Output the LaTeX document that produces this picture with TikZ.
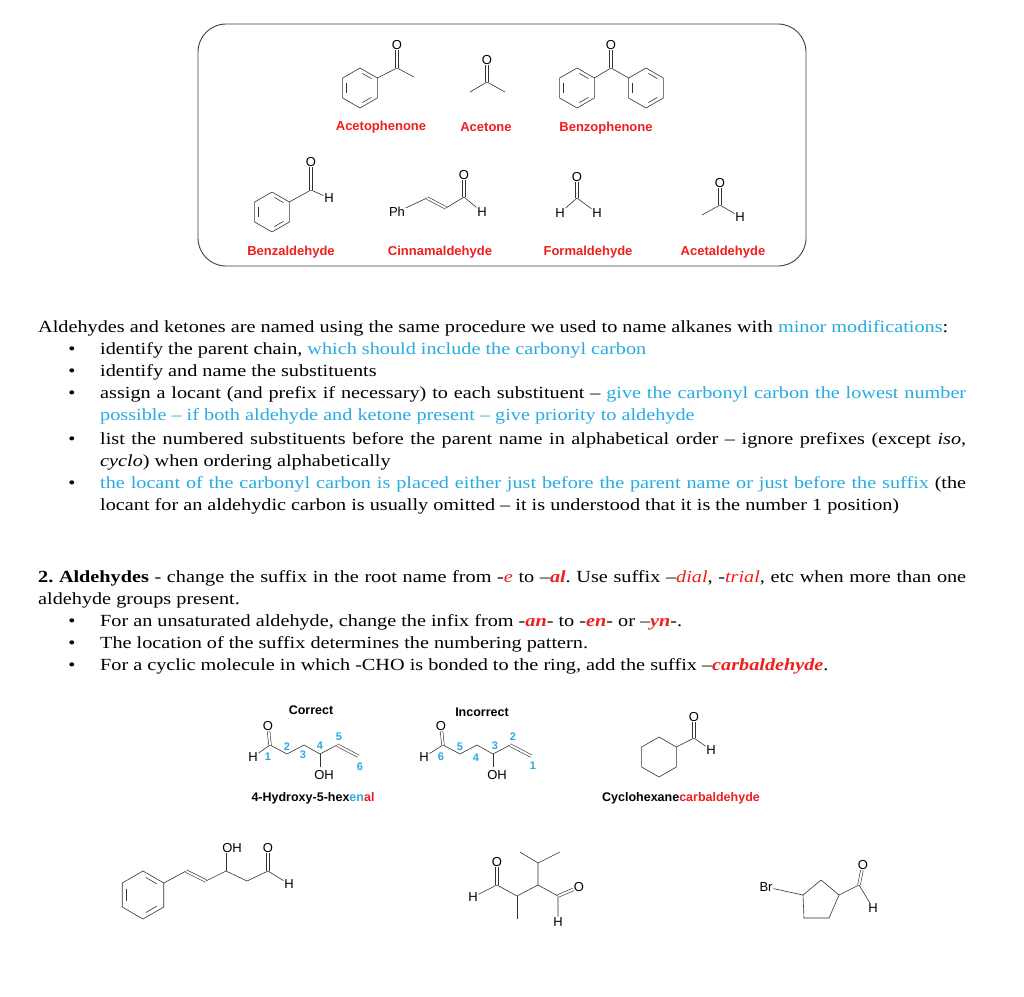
\documentclass[tikz,border=0pt]{standalone}
\usepackage{fontspec}
\setmainfont{Liberation Serif}[FakeStretch=1.19]
\setsansfont{Liberation Sans}
\definecolor{cblue}{RGB}{41,171,226}
\definecolor{cred}{RGB}{240,30,30}
\newcommand\bl[1]{\textcolor{cblue}{#1}}
\newcommand\rdi[1]{\textcolor{cred}{\textit{#1}}}
\newcommand\rdb[1]{\textcolor{cred}{\textbf{\textit{#1}}}}
\newcommand\hexa[3]{\draw[bond] (#1,#2) +(90:#3) -- +(30:#3) -- +(-30:#3) -- +(-90:#3) -- +(-150:#3) -- +(150:#3) -- cycle;}
\newcommand\arom[3]{\foreach \a in {90,210,330}{\draw[bond] ([shift={(#1,#2)}]{\a-9}:{0.74*#3}) -- ([shift={(#1,#2)}]{\a-51}:{0.74*#3});}}
\frenchspacing
\begin{document}
\begin{tikzpicture}[x=1pt,y=-1pt,
  bond/.style={line width=0.6pt,black!80},
  dbl/.style={line width=0.6pt,double=white,double distance=2pt,draw=black!80},
  atom/.style={font=\sffamily\fontsize{13}{13}\selectfont,inner sep=0.6pt},
  num/.style={font=\sffamily\bfseries\fontsize{11}{11}\selectfont,text=cblue,inner sep=0pt},
  mname/.style={font=\sffamily\bfseries\fontsize{13}{13}\selectfont,text=cred},
  kname/.style={font=\sffamily\bfseries\fontsize{12.5}{12.5}\selectfont},
  txt/.style={anchor=base west,inner sep=0pt,font=\fontsize{17}{17}\selectfont},
  bul/.style={anchor=base,inner sep=0pt,font=\fontsize{17}{17}\selectfont}]
\useasboundingbox (0,0) rectangle (1024,996);
\fill[white] (0,0) rectangle (1024,996);
% box
\draw[line width=0.9pt,black!75,rounded corners=28pt] (198,24) rectangle (806,266);
% Acetophenone
\hexa{360}{88}{20}\arom{360}{88}{20}
\coordinate (a1) at (397,68); \coordinate (a2) at (414,77);
\node[atom] (ao) at (397,45) {O};
\draw[bond] (377.3,78) -- (a1) -- (a2); \draw[dbl] (a1) -- (ao);
% Acetone
\coordinate (b1) at (487,82);
\node[atom] (bo) at (487,60) {O};
\draw[bond] (470,92) -- (b1) -- (505,92); \draw[dbl] (b1) -- (bo);
% Benzophenone
\hexa{577}{88}{20}\arom{577}{88}{20}\hexa{646}{88}{20}\arom{646}{88}{20}
\coordinate (c1) at (611,68); \node[atom] (co) at (611,45) {O};
\draw[bond] (594.3,78) -- (c1) -- (628.7,78); \draw[dbl] (c1) -- (co);
\node[mname] (n1) at (381,127) {Acetophenone};
\node[mname] (n2) at (486,127) {Acetone};
\node[mname] (n3) at (606,128) {Benzophenone};
% Benzaldehyde
\hexa{272}{212}{20}\arom{272}{212}{20}
\coordinate (d1) at (311,190); \node[atom] (do) at (311,162) {O}; \node[atom] (dh) at (329,198) {H};
\draw[bond] (289.3,202) -- (d1) -- (dh); \draw[dbl] (d1) -- (do);
% Cinnamaldehyde
\node[atom] (ph) at (397,212) {Ph};
\coordinate (e1) at (427,198); \coordinate (e2) at (446,208); \coordinate (e3) at (464,197);
\node[atom] (eo) at (464,175) {O}; \node[atom] (eh) at (482,212) {H};
\draw[bond] (ph) -- (e1); \draw[dbl] (e1) -- (e2); \draw[bond] (e2) -- (e3) -- (eh); \draw[dbl] (e3) -- (eo);
% Formaldehyde
\coordinate (f1) at (577,198); \node[atom] (fo) at (577,177) {O};
\node[atom] (fh1) at (560,213) {H}; \node[atom] (fh2) at (597,213) {H};
\draw[bond] (fh1) -- (f1) -- (fh2); \draw[dbl] (f1) -- (fo);
% Acetaldehyde
\coordinate (g1) at (720,205); \node[atom] (go) at (720,183) {O}; \node[atom] (gh) at (740,217) {H};
\draw[bond] (702,215) -- (g1) -- (gh); \draw[dbl] (g1) -- (go);
\node[mname] (n4) at (291,252) {Benzaldehyde};
\node[mname] (n5) at (440,252) {Cinnamaldehyde};
\node[mname] (n6) at (588,252) {Formaldehyde};
\node[mname] (n7) at (723,252) {Acetaldehyde};
% Text block
\node[txt] (t1) at (38,332) {Aldehydes and ketones are named using the same procedure we used to name alkanes with \bl{minor modifications}:};
\foreach \y in {354,376,398,444,488} {\node[bul] at (72,\y) {\textbullet};}
\node[txt] (t2) at (100,354) {identify the parent chain, \bl{which should include the carbonyl carbon}};
\node[txt] (t3) at (100,376) {identify and name the substituents};
\node[txt] (t4) at (100,398) {\hbox to 866pt{assign a locant (and prefix if necessary) to each substituent – \bl{give the carbonyl carbon the lowest number}}};
\node[txt] (t5) at (100,420) {\bl{possible – if both aldehyde and ketone present – give priority to aldehyde}};
\node[txt] (t6) at (100,444) {\hbox to 866pt{list the numbered substituents before the parent name in alphabetical order – ignore prefixes (except \textit{iso},}};
\node[txt] (t7) at (100,466) {\textit{cyclo}) when ordering alphabetically};
\node[txt] (t8) at (100,488) {\hbox to 866pt{\bl{the locant of the carbonyl carbon is placed either just before the parent name or just before the suffix} (the}};
\node[txt] (t9) at (100,510) {locant for an aldehydic carbon is usually omitted – it is understood that it is the number 1 position)};
\node[txt] (s1) at (38,582) {\hbox to 928pt{\textbf{2. Aldehydes} - change the suffix in the root name from -\rdi{e} to –\rdb{al}. Use suffix –\rdi{dial}, -\rdi{trial}, etc when more than one}};
\node[txt] (s2) at (38,604) {aldehyde groups present.};
\foreach \y in {626,648,670} {\node[bul] at (72,\y) {\textbullet};}
\node[txt] (s3) at (100,626) {For an unsaturated aldehyde, change the infix from -\rdb{an}- to -\rdb{en}- or –\rdb{yn}-.};
\node[txt] (s4) at (100,648) {The location of the suffix determines the numbering pattern.};
\node[txt] (s5) at (100,670) {For a cyclic molecule in which -CHO is bonded to the ring, add the suffix –\rdb{carbaldehyde}.};
% Correct
\node[kname] (k1) at (311,710) {Correct};
\coordinate (h1) at (270,745); \coordinate (h2) at (287,754); \coordinate (h3) at (304,745);
\coordinate (h4) at (320,754); \coordinate (h5) at (337,745); \coordinate (h6) at (358,756);
\node[atom] (ho) at (268,726) {O}; \node[atom] (hh) at (253,757) {H}; \node[atom] (hoh) at (324,775) {OH};
\draw[bond] (hh) -- (h1) -- (h2) -- (h3) -- (h4) -- (h5); \draw[dbl] (h5) -- (h6); \draw[dbl] (h1) -- (ho);
\draw[bond] (h4) -- (320,767);
\node[num] at (268,757) {1}; \node[num] at (287,747) {2}; \node[num] at (303,755) {3};
\node[num] at (320,746) {4}; \node[num] at (339,737) {5}; \node[num] at (360,767) {6};
% Incorrect
\node[kname] (k2) at (482,712) {Incorrect};
\coordinate (i1) at (443,745); \coordinate (i2) at (460,754); \coordinate (i3) at (477,745);
\coordinate (i4) at (493,754); \coordinate (i5) at (510,745); \coordinate (i6) at (531,756);
\node[atom] (io) at (441,726) {O}; \node[atom] (ih) at (424,757) {H}; \node[atom] (ioh) at (497,775) {OH};
\draw[bond] (ih) -- (i1) -- (i2) -- (i3) -- (i4) -- (i5); \draw[dbl] (i5) -- (i6); \draw[dbl] (i1) -- (io);
\draw[bond] (i4) -- (493,767);
\node[num] at (441,757) {6}; \node[num] at (460,747) {5}; \node[num] at (476,758) {4};
\node[num] at (495,746) {3}; \node[num] at (513,737) {2}; \node[num] at (533,766) {1};
% Cyclohexanecarbaldehyde
\hexa{659}{757}{20}
\coordinate (j1) at (694,738); \node[atom] (jo) at (694,717) {O}; \node[atom] (jh) at (711,750) {H};
\draw[bond] (676.3,747) -- (j1) -- (jh); \draw[dbl] (j1) -- (jo);
\node[kname] (k3) at (313,798) {4-Hydroxy-5-hex\textcolor{cblue}{en}\textcolor{cred}{al}};
\node[kname] (k4) at (681,798) {Cyclohexane\textcolor{cred}{carbaldehyde}};
% Mol A
\hexa{143}{895}{24}\arom{143}{895}{24}
\coordinate (m1) at (186,871); \coordinate (m2) at (206,881); \coordinate (m3) at (226,871);
\coordinate (m4) at (247,881); \coordinate (m5) at (268,871);
\node[atom] (mo) at (268,848) {O}; \node[atom] (mh) at (289,884) {H}; \node[atom] (moh) at (232,848) {OH};
\draw[bond] (163.8,883) -- (m1); \draw[dbl] (m1) -- (m2); \draw[bond] (m2) -- (m3) -- (m4) -- (m5) -- (mh);
\draw[dbl] (m5) -- (mo); \draw[bond] (m3) -- (moh.south -| m3);
% Mol B
\coordinate (p1) at (538,885); \coordinate (p2) at (538,863); \coordinate (p3) at (517,896);
\coordinate (p4) at (497,885); \coordinate (p5) at (558,896);
\node[atom] (po1) at (497,862) {O}; \node[atom] (ph1) at (473,897) {H};
\node[atom] (po2) at (579,887) {O}; \node[atom] (ph2) at (558,922) {H};
\draw[bond] (520,852) -- (p2) -- (560,852); \draw[bond] (p2) -- (p1) -- (p3) -- (p4) -- (ph1);
\draw[bond] (p3) -- (517,919); \draw[dbl] (p4) -- (po1);
\draw[bond] (p1) -- (p5) -- (ph2); \draw[dbl] (p5) -- (po2);
% Mol C
\coordinate (q1) at (803,895); \coordinate (q2) at (821,880); \coordinate (q3) at (839,895);
\coordinate (q4) at (829,918); \coordinate (q5) at (804,918); \coordinate (q6) at (859,885);
\node[atom] (qbr) at (766,887) {Br}; \node[atom] (qo) at (863,865) {O}; \node[atom] (qh) at (873,908) {H};
\draw[bond] (q1) -- (q2) -- (q3) -- (q4) -- (q5) -- cycle;
\draw[bond] (qbr) -- (q1); \draw[bond] (q3) -- (q6) -- (qh); \draw[dbl] (q6) -- (qo);
\end{tikzpicture}
\end{document}
